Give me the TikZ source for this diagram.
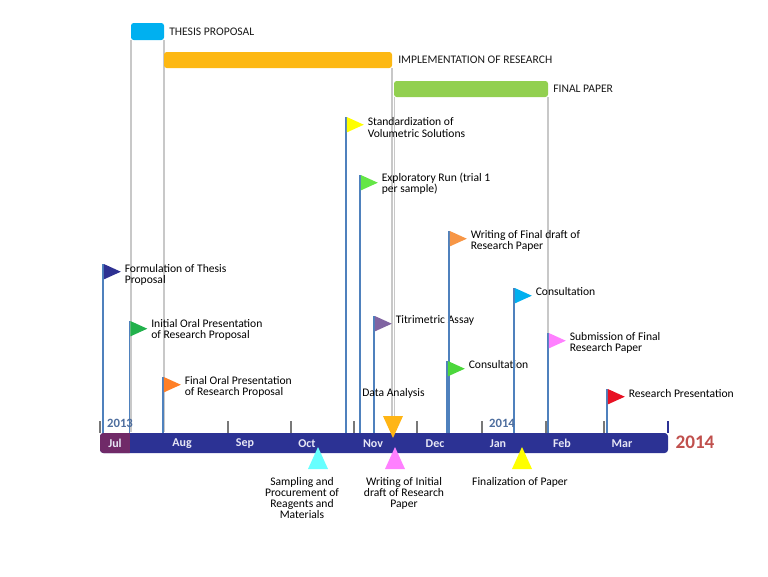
\documentclass[tikz,border=0pt]{standalone}
\usepackage{fontspec}
\setmainfont{Carlito}
\usetikzlibrary{calc}
\definecolor{barblue}{RGB}{44,50,148}
\definecolor{julpurple}{RGB}{112,42,104}
\definecolor{polecol}{RGB}{79,129,189}
\definecolor{greyline}{RGB}{200,200,200}
\definecolor{tickgrey}{RGB}{120,120,120}
\definecolor{monthtxt}{RGB}{230,230,245}
\definecolor{yearblue}{RGB}{78,110,158}
\definecolor{bigred}{RGB}{192,80,77}
\definecolor{thesiscyan}{RGB}{0,176,240}
\definecolor{implorange}{RGB}{253,184,19}
\definecolor{finalgreen}{RGB}{146,208,80}
\definecolor{fdarkblue}{RGB}{46,49,146}
\definecolor{fgreen}{RGB}{34,177,76}
\definecolor{forange}{RGB}{255,127,39}
\definecolor{fyellow}{RGB}{255,255,0}
\definecolor{fbright}{RGB}{100,230,70}
\definecolor{fpurple}{RGB}{128,100,162}
\definecolor{forange2}{RGB}{247,150,70}
\definecolor{fgreen2}{RGB}{76,215,60}
\definecolor{fcyan}{RGB}{0,176,240}
\definecolor{fpink}{RGB}{255,128,255}
\definecolor{fred}{RGB}{232,17,35}
\definecolor{tcyan}{RGB}{102,255,255}
\definecolor{torange}{RGB}{255,181,21}
\begin{document}
\begin{tikzpicture}[x=0.75pt,y=-0.75pt,
  lbl/.style={font=\fontsize{8.7}{8.4}\selectfont, align=left, inner sep=0pt, text=black},
  clbl/.style={font=\fontsize{8.7}{8.4}\selectfont, align=center, inner sep=0pt, text=black},
  glbl/.style={font=\fontsize{8.7}{8.4}\selectfont, inner sep=0pt, text=black!90, anchor=west},
  month/.style={font=\fontsize{9}{9}\selectfont\bfseries, text=monthtxt, inner sep=0pt},
  pole/.style={draw=polecol, line width=1.1pt},
  gline/.style={draw=greyline, line width=0.8pt},
  tickmark/.style={draw=tickgrey, line width=1.4pt},
  gbar/.style={rounded corners=2pt}
]
\useasboundingbox (0,0) rectangle (768,576);

% grey guide lines
\coordinate (g1a) at (131,40);  \coordinate (g1b) at (131,432);
\coordinate (g2a) at (164,40);  \coordinate (g2b) at (164,432);
\coordinate (g3a) at (392,68);  \coordinate (g3b) at (392,416);
\coordinate (g4a) at (394.5,97);  \coordinate (g4b) at (394.5,416);
\coordinate (g5a) at (548,97);  \coordinate (g5b) at (548,333);
\draw[gline] (g1a) -- (g1b);
\draw[gline] (g2a) -- (g2b);
\draw[gline] (g3a) -- (g3b);
\draw[gline] (g4a) -- (g4b);
\draw[gline] (g5a) -- (g5b);

% gantt bars
\fill[gbar, thesiscyan] (131,23) rectangle (164,40);
\node[glbl] (thesis) at (169,31.5) {THESIS PROPOSAL};
\fill[gbar, implorange] (164,52) rectangle (392,68);
\node[glbl] (impl) at (398,59.5) {IMPLEMENTATION OF RESEARCH};
\fill[gbar, finalgreen] (394,81) rectangle (548,97);
\node[glbl] (final) at (553,89) {FINAL PAPER};

% ticks
\foreach \t in {100,163,228,291,354,417,482,546,604}{
  \draw[tickmark] (\t,421) -- (\t,433);
}
\draw[draw=barblue, line width=1.4pt] (668,421) -- (668,433);

% flags
\newcommand\flagmark[6]{%
  \coordinate (#1top) at (#2,#3);
  \coordinate (#1foot) at (#2,433);
  \draw[pole] (#1top) -- (#1foot);
  \fill[#4] ($(#1top)+(0.8,0)$) -- ++(17,7.7) -- ++(-17,7.7) -- cycle;
  \node[lbl, anchor=west] (#1) at ($(#1top)+(21.5,#6)$) {#5};
}
\flagmark{formul}{103}{264}{fdarkblue}{Formulation of Thesis\\Proposal}{11}
\flagmark{initoral}{129.5}{321}{fgreen}{Initial Oral Presentation\\of Research Proposal}{9}
\flagmark{finoral}{163}{377}{forange}{Final Oral Presentation\\of Research Proposal}{10}
\flagmark{standard}{346}{117}{fyellow}{Standardization of\\Volumetric Solutions}{10.5}
\flagmark{explor}{360}{175}{fbright}{Exploratory Run (trial 1\\per sample)}{9}
\flagmark{titri}{374}{316}{fpurple}{Titrimetric Assay}{4.5}
\flagmark{writefin}{449}{231}{forange2}{Writing of Final draft of\\Research Paper}{9.5}
\flagmark{consA}{447}{361}{fgreen2}{Consultation}{3.5}
\flagmark{consB}{514}{288}{fcyan}{Consultation}{3.5}
\flagmark{submit}{548}{333}{fpink}{Submission of Final\\Research Paper}{10}
\flagmark{respres}{607}{389}{fred}{Research Presentation}{4.5}

\node[lbl, anchor=west] (dataan) at (362,393) {Data Analysis};

% timeline bar
\fill[barblue, rounded corners=2.5pt] (100,433) rectangle (668,453);
\fill[julpurple, rounded corners=2.5pt] (100,433) rectangle (133,453);
\fill[julpurple] (128,433) rectangle (130,453);
\fill[barblue] (130,433) rectangle (136,453);

\node[month] (mjul) at (115,443.5) {Jul};
\node[month] (maug) at (182,443.5) {Aug};
\node[month] (msep) at (245,443.5) {Sep};
\node[month] (moct) at (307,443.5) {Oct};
\node[month] (mnov) at (373,443.5) {Nov};
\node[month] (mdec) at (435,443.5) {Dec};
\node[month] (mjan) at (498,443.5) {Jan};
\node[month] (mfeb) at (562,443.5) {Feb};
\node[month] (mmar) at (622,443.5) {Mar};

\node[font=\fontsize{9.5}{9.5}\selectfont\bfseries, text=yearblue, inner sep=0pt] (y13) at (120,423) {2013};
\node[font=\fontsize{9.5}{9.5}\selectfont\bfseries, text=yearblue, inner sep=0pt] (y14) at (502,423) {2014};
\node[font=\fontsize{14.4}{14.4}\selectfont\bfseries, text=bigred, inner sep=0pt] (big14) at (695,442.5) {2014};

% triangles
\fill[torange] (383,416) -- (403,416) -- (393,438) -- cycle;
\fill[tcyan] (308,469) -- (318,447) -- (328,469) -- cycle;
\fill[fpink] (385,469) -- (395,447) -- (405,469) -- cycle;
\fill[fyellow] (512,469) -- (522,447) -- (532,469) -- cycle;

\node[clbl, anchor=north] (sampling) at (302,477) {Sampling and\\Procurement of\\Reagents and\\Materials};
\node[clbl, anchor=north] (writeinit) at (404,477) {Writing of Initial\\draft of Research\\Paper};
\node[clbl, anchor=north] (finaliz) at (520,477) {Finalization of Paper};
\end{tikzpicture}
\end{document}
